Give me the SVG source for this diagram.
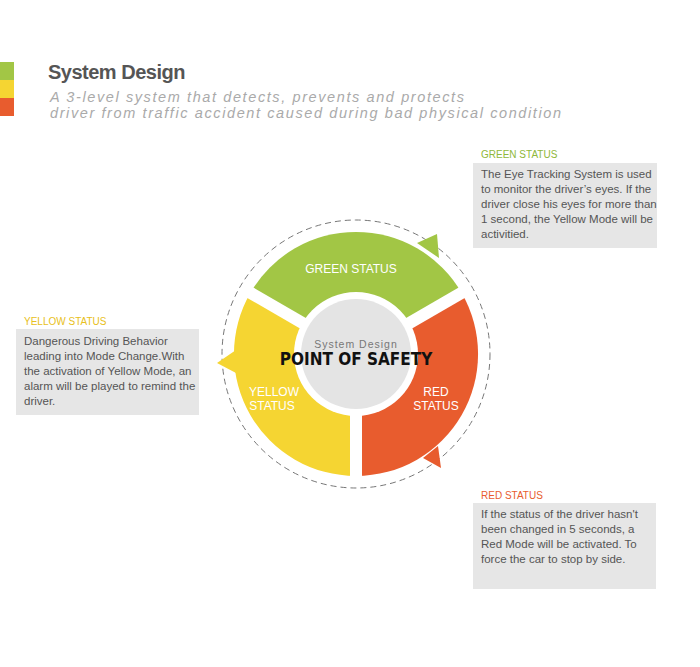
<svg xmlns="http://www.w3.org/2000/svg" width="700" height="667" viewBox="0 0 700 667">
<style>
.lbl{font-family:"Liberation Sans",Arial,sans-serif;font-size:10px}
.body{font-family:"Liberation Sans",Arial,sans-serif;font-size:11.5px;fill:#555}
.seg{font-family:"Liberation Sans",Arial,sans-serif;font-size:12px;fill:#fff;text-anchor:middle}
.box{fill:#e6e6e6}
</style>
<rect width="700" height="667" fill="#fff"/>
<g id="legend">
<rect x="0" y="62" width="14" height="18" fill="#a2c645"/>
<rect x="0" y="80" width="14" height="18" fill="#f5d532"/>
<rect x="0" y="98" width="14" height="18" fill="#e85c2e"/>
</g>
<g id="title">
<text x="48" y="79" font-family="Liberation Sans,Arial,sans-serif" font-size="20" font-weight="bold" fill="#555" letter-spacing="-0.5">System Design</text>
<text font-family="Liberation Sans,Arial,sans-serif" font-size="14.5" font-style="italic" fill="#aaa" letter-spacing="1.6"><tspan x="50" y="102">A 3-level system that detects, prevents and protects</tspan><tspan x="50" y="118">driver from traffic accident caused during bad physical condition</tspan></text>
</g>
<g id="connectors">
<circle cx="356" cy="354" r="134" fill="none" stroke="#777" stroke-width="1" stroke-dasharray="6,4"/>
</g>
<g id="wheel">
<path d="M356 354 L250.3 293 A122 122 0 0 1 461.7 293 Z" fill="#a2c645"/>
<path d="M356 354 L461.7 293 A122 122 0 0 1 356 476 Z" fill="#e85c2e"/>
<path d="M356 354 L356 476 A122 122 0 0 1 250.3 293 Z" fill="#f5d532"/>
<polygon points="417,243 437,234 439,258" fill="#a2c645"/>
<polygon points="423,458 438,446 441,468" fill="#e85c2e"/>
<polygon points="217,363 236,350 236,373" fill="#f5d532"/>
<g stroke="#fff" stroke-width="12">
<line x1="356" y1="354" x2="356" y2="478"/>
<line x1="356" y1="354" x2="249" y2="292"/>
<line x1="356" y1="354" x2="463" y2="292"/>
</g>
<circle cx="356" cy="354" r="62" fill="#fff"/>
<circle cx="356" cy="354" r="55" fill="#e4e4e4"/>
<text x="356" y="348" text-anchor="middle" font-family="Liberation Sans,Arial,sans-serif" font-size="10.5" fill="#777" letter-spacing="1">System Design</text>
<text x="356" y="365" text-anchor="middle" font-family="Liberation Sans Narrow,DejaVu Sans Condensed,sans-serif" font-size="17" font-weight="bold" fill="#111">POINT OF SAFETY</text>
<text class="seg" x="351" y="273">GREEN STATUS</text>
<text class="seg" x="274" y="396">YELLOW</text><text class="seg" x="272" y="410">STATUS</text>
<text class="seg" x="436" y="396">RED</text><text class="seg" x="436" y="410">STATUS</text>
</g>
<g id="green-note">
<text class="lbl" x="481" y="158" fill="#8fb83a">GREEN STATUS</text>
<rect class="box" x="473" y="163" width="184" height="85"/>
<text class="body"><tspan x="481" y="178">The Eye Tracking System is used</tspan><tspan x="481" y="193">to monitor the driver’s eyes. If the</tspan><tspan x="481" y="208">driver close his eyes for more than</tspan><tspan x="481" y="223">1 second, the Yellow Mode will be</tspan><tspan x="481" y="238">activitied.</tspan></text>
</g>
<g id="yellow-note">
<text class="lbl" x="24" y="325" fill="#e8c020">YELLOW STATUS</text>
<rect class="box" x="16" y="329" width="183" height="86"/>
<text class="body"><tspan x="24" y="345">Dangerous Driving Behavior</tspan><tspan x="24" y="360">leading into Mode Change.With</tspan><tspan x="24" y="375">the activation of Yellow Mode, an</tspan><tspan x="24" y="390">alarm will be played to remind the</tspan><tspan x="24" y="405">driver.</tspan></text>
</g>
<g id="red-note">
<text class="lbl" x="481" y="499" fill="#e85c2e">RED STATUS</text>
<rect class="box" x="473" y="503" width="183" height="86"/>
<text class="body"><tspan x="481" y="518">If the status of the driver hasn't</tspan><tspan x="481" y="533">been changed in 5 seconds, a</tspan><tspan x="481" y="548">Red Mode will be activated. To</tspan><tspan x="481" y="563">force the car to stop by side.</tspan></text>
</g>
</svg>
